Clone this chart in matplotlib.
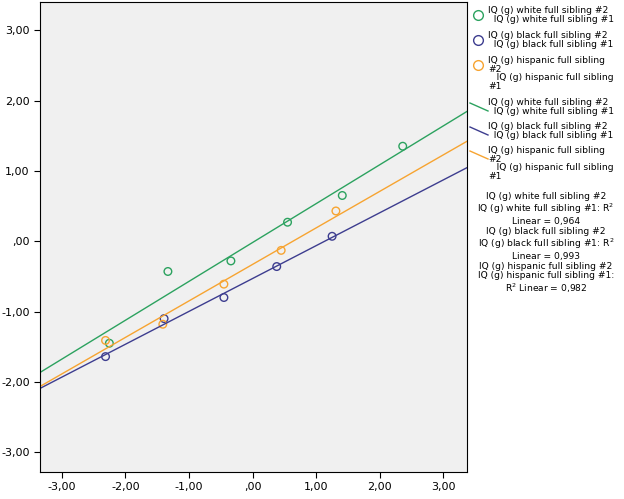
import numpy as np
import matplotlib
matplotlib.use("Agg")
import matplotlib.pyplot as plt
from matplotlib.lines import Line2D

white_x = [2.36, 1.41, 0.55, -0.34, -1.33, -2.25]
white_y = [1.35, 0.65, 0.27, -0.28, -0.43, -1.45]
black_x = [-2.31, -1.39, -0.45, 0.38, 1.25]
black_y = [-1.64, -1.10, -0.80, -0.36, 0.07]
hisp_x = [-2.31, -1.41, -0.45, 0.45, 1.31]
hisp_y = [-1.41, -1.18, -0.61, -0.13, 0.43]

GREEN, BLUE, ORANGE = "#2ca25f", "#3d3d8f", "#f7a431"
series = [(white_x, white_y, GREEN), (black_x, black_y, BLUE), (hisp_x, hisp_y, ORANGE)]

fig = plt.figure(figsize=(6.24, 4.99), dpi=100)
ax = fig.add_axes([40 / 624, 1 - 472 / 499, 427 / 624, 470 / 499])
ax.set_facecolor("#f0f0f0")
xl = np.array([-3.34, 3.37])
for x, y, c in series:
    ax.scatter(x, y, s=30, facecolors="none", edgecolors=c, linewidths=1)
    m, b = np.polyfit(x, y, 1)
    ax.plot(xl, m * xl + b, color=c, lw=1)
ax.set_xlim(*xl)
ax.set_ylim(-3.28, 3.40)
ticks = [-3, -2, -1, 0, 1, 2, 3]
lab = ["-3,00", "-2,00", "-1,00", ",00", "1,00", "2,00", "3,00"]
ax.set_xticks(ticks, lab)
ax.set_yticks(ticks, lab)
ax.tick_params(labelsize=8, length=4)

fs = 6.6
lines = [
    (15, GREEN, "o", "IQ (g) white full sibling #2\n  IQ (g) white full sibling #1"),
    (40, BLUE, "o", "IQ (g) black full sibling #2\n  IQ (g) black full sibling #1"),
    (65, ORANGE, "o", "IQ (g) hispanic full sibling\n#2\n   IQ (g) hispanic full sibling\n#1"),
    (107, GREEN, "-", "IQ (g) white full sibling #2\n  IQ (g) white full sibling #1"),
    (131, BLUE, "-", "IQ (g) black full sibling #2\n  IQ (g) black full sibling #1"),
    (155, ORANGE, "-", "IQ (g) hispanic full sibling\n#2\n   IQ (g) hispanic full sibling\n#1"),
]
for ypx, c, mk, txt in lines:
    yf = 1 - ypx / 499
    if mk == "o":
        fig.add_artist(Line2D([478 / 624], [yf], marker="o", mfc="none", mec=c, ms=7,
                              transform=fig.transFigure))
    else:
        fig.add_artist(Line2D([470 / 624, 488 / 624], [yf + 0.008, yf - 0.008], color=c, lw=1,
                              transform=fig.transFigure))
    fig.text(488 / 624, yf + 0.018, txt, fontsize=fs, va="top", ha="left", linespacing=0.95)

fig.text(546 / 624, 1 - 192 / 499,
         "IQ (g) white full sibling #2\nIQ (g) white full sibling #1: R$^2$\nLinear = 0,964\n"
         "IQ (g) black full sibling #2\nIQ (g) black full sibling #1: R$^2$\nLinear = 0,993\n"
         "IQ (g) hispanic full sibling #2\nIQ (g) hispanic full sibling #1:\nR$^2$ Linear = 0,982",
         fontsize=fs, ha="center", va="top", linespacing=1.1)

fig.savefig("out.png", dpi=100)
